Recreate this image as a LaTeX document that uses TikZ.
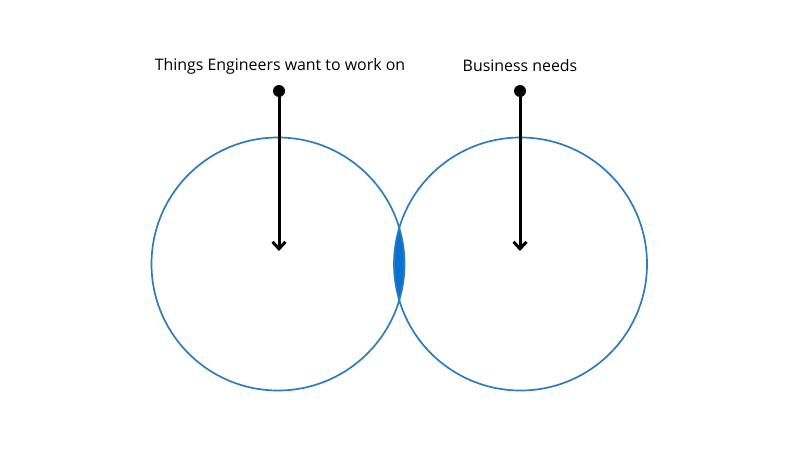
\documentclass[tikz,border=0pt]{standalone}
\usepackage{fontspec}
\setmainfont{Open Sans}
\usetikzlibrary{arrows.meta}
\definecolor{ringblue}{RGB}{45,125,185}
\definecolor{lensblue}{RGB}{10,112,212}

\begin{document}
\begin{tikzpicture}[x=1pt,y=-1pt]
  \def\r{126.5}   % circle radius
  \def\yc{264}   % centre line
  \def\yt{91}   % level of the dots
  \useasboundingbox (0,0) rectangle (800,450);
  \coordinate (L) at (278,\yc);
  \coordinate (R) at (520.5,\yc);
  \begin{scope}
    \clip (L) circle (\r);
    \fill[lensblue] (R) circle (\r);
  \end{scope}
  \foreach \c in {L,R} { \draw[ringblue, line width=1.7pt] (\c) circle (\r); }
  \node[font=\fontsize{15.9}{18}\selectfont] (lt) at (280,66) {Things Engineers want to work on};
  \node[font=\fontsize{15.9}{18}\selectfont] (rt) at (520,66) {Business needs};
  \foreach \n/\x in {l/279,r/520} {
    \node[circle, fill=black, inner sep=0pt, minimum size=12pt] (\n d) at (\x,\yt) {};
    \coordinate (\n a) at (\x,251);
    \draw[-{Straight Barb[length=7pt,width=13pt]}, line width=3pt] (\n d.center) -- (\n a);
  }
\end{tikzpicture}
\end{document}
